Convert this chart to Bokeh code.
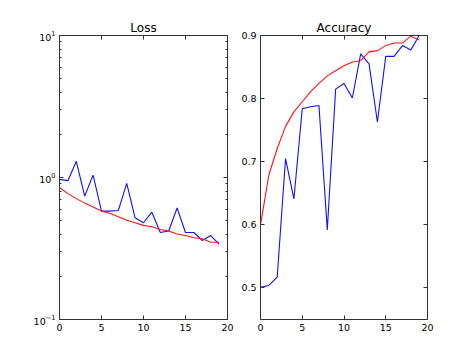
from bokeh.plotting import figure
from bokeh.layouts import row
from bokeh.models import Range1d, FixedTicker, LinearAxis, LogAxis, CustomJSTickFormatter
from bokeh.embed import file_html
from bokeh.resources import INLINE

epochs = list(range(20))
loss_blue = [0.97, 0.95, 1.30, 0.74, 1.04, 0.58, 0.58, 0.585, 0.91, 0.52,
             0.48, 0.57, 0.41, 0.42, 0.61, 0.41, 0.41, 0.36, 0.39, 0.34]
loss_red = [0.85, 0.77, 0.71, 0.66, 0.62, 0.58, 0.56, 0.53, 0.50, 0.48,
            0.46, 0.45, 0.43, 0.42, 0.40, 0.39, 0.376, 0.37, 0.35, 0.35]
acc_blue = [0.501, 0.504, 0.517, 0.705, 0.641, 0.784, 0.787, 0.789, 0.592, 0.815,
            0.824, 0.801, 0.871, 0.855, 0.763, 0.867, 0.867, 0.884, 0.877, 0.900]
acc_red = [0.600, 0.679, 0.721, 0.756, 0.779, 0.795, 0.811, 0.824, 0.836, 0.844,
           0.852, 0.858, 0.860, 0.874, 0.876, 0.884, 0.888, 0.888, 0.899, 0.893]

x_ticks = [0, 5, 10, 15, 20]
loss_ticks = [0.1, 1, 10]
loss_minor = [m * d for d in (0.1, 1) for m in range(2, 10)]
loss_labels = {"0.1": "10\u207b\u00b9", "1": "10\u2070", "10": "10\u00b9"}
acc_ticks = [0.5, 0.6, 0.7, 0.8, 0.9]

FONT = "DejaVu Sans"
TICK_SIZE = "9.5px"
FRAME = "#333333"
BLUE = "#1010ff"
RED = "#ff1010"

blank = CustomJSTickFormatter(code="return ''")


def style(ax, labels=True):
    ax.major_tick_in = 4
    ax.major_tick_out = 0
    ax.minor_tick_in = 2
    ax.minor_tick_out = 0
    ax.axis_line_color = None
    ax.major_tick_line_color = FRAME
    ax.minor_tick_line_color = FRAME
    ax.major_label_text_font = FONT
    ax.major_label_text_font_size = TICK_SIZE
    ax.major_label_text_color = "black"
    ax.major_label_standoff = 4
    if not labels:
        ax.formatter = blank
        ax.major_label_standoff = 0
        ax.major_label_text_font_size = "1px"


def base_fig(title, width, bl, br, **kw):
    p = figure(width=width, height=355, output_backend="svg", toolbar_location=None,
               min_border_left=bl, min_border_right=br, min_border_top=35,
               min_border_bottom=36, x_range=Range1d(0, 20), **kw)
    p.title.text = title
    p.title.align = "center"
    p.title.text_font = FONT
    p.title.text_font_size = "12px"
    p.title.text_font_style = "normal"
    p.title.text_color = "black"
    p.title.offset = 0
    p.title.standoff = 2
    p.outline_line_color = FRAME
    p.outline_line_width = 1
    p.grid.visible = False
    p.background_fill_color = "white"
    p.border_fill_color = "white"
    return p


# Loss (log scale)
p1 = base_fig("Loss", 236, 59, 9, y_axis_type="log", y_range=Range1d(0.1, 10))
xt1 = FixedTicker(ticks=x_ticks, minor_ticks=[])
yt1 = FixedTicker(ticks=loss_ticks, minor_ticks=loss_minor)
p1.xaxis.ticker = xt1
p1.yaxis.ticker = yt1
p1.yaxis.major_label_overrides = loss_labels
for ax in p1.xaxis + p1.yaxis:
    style(ax)
top1 = LinearAxis(ticker=xt1)
style(top1, labels=False)
right1 = LogAxis(ticker=yt1)
style(right1, labels=False)
p1.add_layout(top1, "above")
p1.add_layout(right1, "right")
p1.line(epochs, loss_blue, line_color=BLUE, line_width=1.1)
p1.line(epochs, loss_red, line_color=RED, line_width=1.1)

# Accuracy
p2 = base_fig("Accuracy", 238, 24, 47, y_range=Range1d(0.45, 0.9))
xt2 = FixedTicker(ticks=x_ticks, minor_ticks=[])
yt2 = FixedTicker(ticks=acc_ticks, minor_ticks=[])
p2.xaxis.ticker = xt2
p2.yaxis.ticker = yt2
for ax in p2.xaxis + p2.yaxis:
    style(ax)
top2 = LinearAxis(ticker=xt2)
style(top2, labels=False)
right2 = LinearAxis(ticker=yt2)
style(right2, labels=False)
p2.add_layout(top2, "above")
p2.add_layout(right2, "right")
p2.line(epochs, acc_blue, line_color=BLUE, line_width=1.1)
p2.line(epochs, acc_red, line_color=RED, line_width=1.1)

layout = row(p1, p2)
open("out.html", "w").write(file_html(layout, INLINE))
